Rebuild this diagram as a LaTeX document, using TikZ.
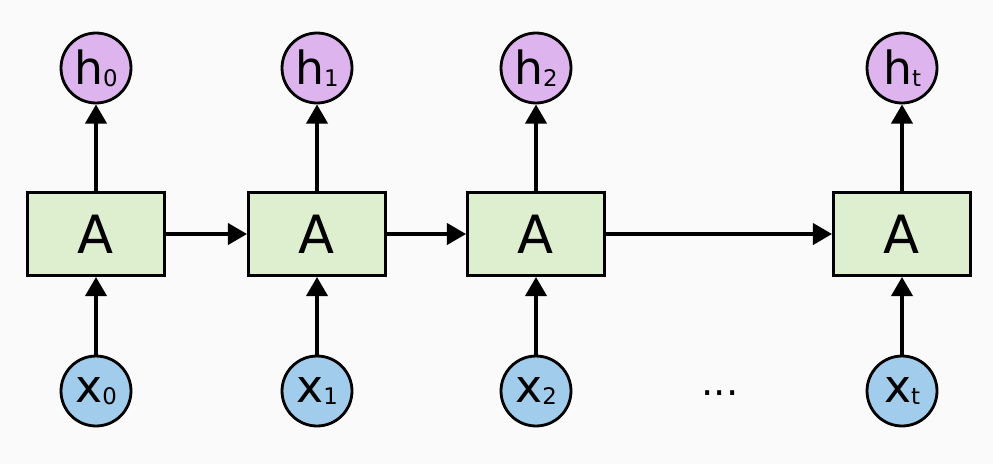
\documentclass[tikz,border=0pt]{standalone}
\usepackage{fontspec}
\setmainfont{DejaVu Sans}
\usetikzlibrary{arrows.meta}
\definecolor{cellgreen}{HTML}{DDEFCF}
\definecolor{outpurple}{HTML}{DDB4EE}
\definecolor{inblue}{HTML}{A1CCEC}
\tikzset{cell/.style={draw,line width=1.6pt,fill=cellgreen,minimum width=2.74cm,minimum height=1.66cm,inner sep=0pt,font=\fontsize{30}{30}\selectfont}}
\tikzset{state/.style={circle,draw,line width=1.6pt,minimum size=1.4cm,inner sep=0pt,font=\fontsize{26}{26}\selectfont}}
\tikzset{flow/.style={line width=2.4pt,-{Triangle[length=11pt,width=12pt]}}}
\newcommand{\sub}[1]{\raisebox{-1pt}{\fontsize{13}{13}\selectfont#1}}

\begin{document}
\begin{tikzpicture}[x=0.02cm,y=-0.02cm]
        \fill [white!98!black] (0,0) rectangle (993,464);
        \useasboundingbox (0,0) rectangle (993,464);
        \foreach \i/\xx/\t in {0/96/0,1/317/1,2/536/2,3/902/t} {
            \node [cell] (A\i) at (\xx,234) {A};
            \node [state,fill=outpurple] (h\i) at (\xx,68) {h\sub{\t}};
            \node [state,fill=inblue] (x\i) at (\xx,391) {x\sub{\t}};
            \draw [flow] (A\i) -- (h\i);
            \draw [flow] (x\i) -- (A\i);
        }
        \draw [flow] (A0) -- (A1);
        \draw [flow] (A1) -- (A2);
        \draw [flow] (A2) -- (A3);
        \node [font=\fontsize{22}{22}\selectfont] (dots) at (720,393) {...};
    \end{tikzpicture}
\end{document}
